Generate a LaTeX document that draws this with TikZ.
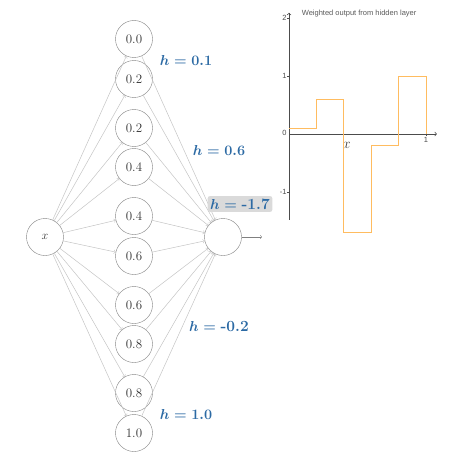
\documentclass[tikz,border=0pt]{standalone}
\usepackage{fontspec}
\usepackage{amsmath}
\newfontfamily\chartfont{Liberation Sans}
\definecolor{hblue}{RGB}{44,106,164}
\definecolor{stepcol}{RGB}{255,188,96}
\definecolor{linkgray}{RGB}{196,196,196}
\definecolor{boxgray}{RGB}{218,218,218}

\begin{document}
\begin{tikzpicture}[x=1pt,y=-1pt,
    neuron/.style={circle,draw=black!50,fill=white,minimum size=37pt,inner sep=0pt,text=black!80,font=\fontsize{13}{15}\selectfont},
    link/.style={->,draw=linkgray,line width=0.5pt},
    hlabel/.style={text=hblue,font=\fontsize{15.5}{18}\selectfont\boldmath},
    ticklabel/.style={font=\chartfont\fontsize{7.5}{9}\selectfont,text=black!70,inner sep=1pt}]
    \useasboundingbox (0,0) rectangle (474,460);

    \node[neuron] (x) at (45,237) {$x$};
    \node[neuron] (out) at (223,237) {};
    \foreach \n/\y/\val in {1/39/0.0, 2/79/0.2, 3/128/0.2, 4/167/0.4, 5/216/0.4,
                            6/256/0.6, 7/305/0.6, 8/344/0.8, 9/393/0.8, 10/433/1.0}
        \node[neuron] (h\n) at (134,\y) {\val};
    \foreach \n in {1,...,10} {
        \draw[link] (x) -- (h\n);
        \draw[link] (h\n) -- (out);
    }
    \coordinate (end) at (262,237);
    \draw[->,draw=black!50,line width=0.5pt] (out) -- (end);

    \node[hlabel] (l1) at (186,61) {$h = 0.1$};
    \node[hlabel] (l2) at (219,150) {$h = 0.6$};
    \node[hlabel,fill=boxgray,rounded corners=2pt,inner sep=2.5pt] (l3) at (240,204) {$h = \mbox{\bfseries -1.7}$};
    \node[hlabel] (l4) at (219,327) {$h = \mbox{\bfseries -0.2}$};
    \node[hlabel] (l5) at (186,414) {$h = 1.0$};

    \begin{scope}[shift={(289,134)},x=137pt,y=58pt]
        \draw[->,black!70,line width=0.7pt] (0,0) -- (1.08,0);
        \draw[->,black!70,line width=0.7pt] (0,-1.48) -- (0,2.09);
        \foreach \t in {-1,1,2}
            \draw[black!70,line width=0.5pt] (-0.015,\t) -- (0,\t);
        \draw[black!70,line width=0.5pt] (1,0) -- (1,-0.04);
        \node[ticklabel,anchor=east] (t2) at (-0.01,2) {2};
        \node[ticklabel,anchor=east] (t1) at (-0.01,1) {1};
        \node[ticklabel,anchor=east] (t0) at (-0.01,0.02) {0};
        \node[ticklabel,anchor=east] (tm1) at (-0.01,-1) {-1};
        \node[ticklabel,anchor=north] (tx1) at (1,-0.03) {1};
        \node[font=\fontsize{15}{17}\selectfont,text=black!75] (xlab) at (0.42,-0.2) {$x$};
        \node[ticklabel,anchor=west,text=black!65] (title) at (0.085,2.07) {Weighted output from hidden layer};
        \draw[stepcol,line width=0.8pt] (0,0.1) -- (0.2,0.1) -- (0.2,0.6) -- (0.4,0.6) -- (0.4,-1.7)
            -- (0.6,-1.7) -- (0.6,-0.2) -- (0.8,-0.2) -- (0.8,1) -- (1,1) -- (1,0);
    \end{scope}
\end{tikzpicture}
\end{document}
